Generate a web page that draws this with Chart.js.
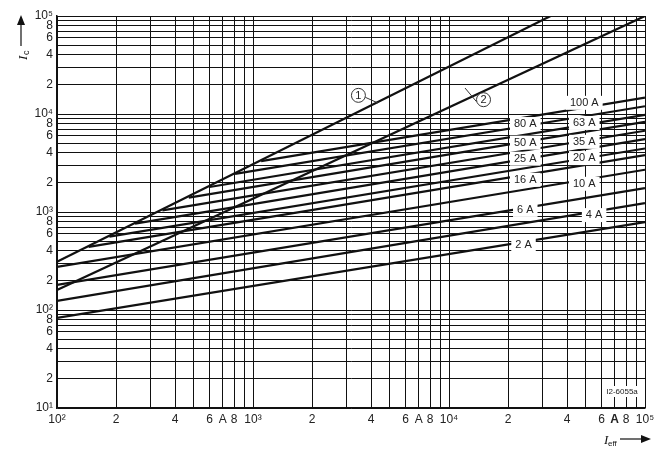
<!DOCTYPE html>
<html><head><meta charset="utf-8">
<script src="https://cdn.jsdelivr.net/npm/chart.js@4.4.0/dist/chart.umd.min.js"></script>
<style>html,body{margin:0;background:#fff}#w{width:660px;height:451px}</style>
</head><body><div id="w"><canvas id="c"></canvas></div>
<script>
const fuseNames = ['100 A','80 A','63 A','50 A','35 A','25 A','20 A','16 A','10 A','6 A','4 A','2 A'];
const fuseStartX = [1100,810,600,470,345,250,185,145,100,100,100,100];
const fuseStartY = [3300,2450,1800,1400,1040,760,560,440,275,180,124,83];
const fuseEndX = [1e5,1e5,1e5,1e5,1e5,1e5,1e5,1e5,1e5,1e5,1e5,1e5];
const fuseEndY = [14700,12000,9800,8300,6750,5550,4450,3800,2700,1750,1230,790];
const labelX = [49000,24500,49000,24500,49000,24500,49000,24500,49000,24500,55000,24000];
const labelY = [13000,7900,8100,5100,5200,3500,3550,2130,1940,1050,930,460];
const curve1 = [[100,310],[33000,1e5]];
const curve2 = [[100,160],[1e5,1e5]];
const sup = {1:'¹',2:'²',3:'³',4:'⁴',5:'⁵'};
const xTickLabels = {1:'10',2:'2',4:'4',6:'6',7:'A',8:'8'};
const yTickLabels = {1:'10',2:'2',4:'4',6:'6',8:'8'};

const datasets = [];
[curve1,curve2].forEach(c=>datasets.push({data:c.map(p=>({x:p[0],y:p[1]}))}));
fuseNames.forEach((n,i)=>datasets.push({data:[{x:fuseStartX[i],y:fuseStartY[i]},{x:fuseEndX[i],y:fuseEndY[i]}]}));
datasets.forEach(d=>Object.assign(d,{borderColor:'#111',borderWidth:2.2,pointRadius:0,fill:false,tension:0}));

function logTicks(min,max){const t=[];for(let e=Math.log10(min);e<Math.log10(max);e++)for(let m=1;m<10;m++)t.push({value:m*Math.pow(10,e)});t.push({value:max});return t;}
function lbl(v,map){const e=Math.floor(Math.log10(v)+1e-9);const m=Math.round(v/Math.pow(10,e));if(m===1)return '10'+sup[e];return map[m]||'';}

const deco = {id:'deco',afterDatasetsDraw(ch){
  const c=ch.ctx,xs=ch.scales.x,ys=ch.scales.y;
  c.save();
  c.font='11px "Liberation Sans", Arial';c.textAlign='center';c.textBaseline='middle';
  fuseNames.forEach((n,i)=>{const px=xs.getPixelForValue(labelX[i]),py=ys.getPixelForValue(labelY[i]);
    const w=c.measureText(n).width+8;c.fillStyle='#fff';c.fillRect(px-w/2,py-7,w,14);c.fillStyle='#222';c.fillText(n,px,py);});
  // circles
  [[3450,15500,'1',378,103],[15000,14000,'2',465,88]].forEach(o=>{const px=xs.getPixelForValue(o[0]),py=ys.getPixelForValue(o[1]);
    c.strokeStyle='#333';c.lineWidth=1;c.beginPath();c.moveTo(px+(o[3]>px?7:-7),py+2);c.lineTo(o[3],o[4]);c.stroke();
    c.fillStyle='#fff';c.beginPath();c.arc(px,py,7,0,Math.PI*2);c.fill();c.stroke();c.fillStyle='#222';c.fillText(o[2],px,py+0.5);});
  // code
  c.font='8px "Liberation Sans", Arial';c.fillStyle='#fff';c.fillRect(606,386,33,11);c.fillStyle='#222';c.fillText('I2-6055a',622,392);
  // axis titles
  c.fillStyle='#111';c.font='italic 13px "Liberation Serif", serif';
  c.save();c.translate(24,60);c.rotate(-Math.PI/2);c.textAlign='left';c.fillText('I',0,0);c.font='9px "Liberation Sans"';c.fillText('c',5,3);c.restore();
  c.strokeStyle='#111';c.lineWidth=1.2;c.beginPath();c.moveTo(21,46);c.lineTo(21,22);c.stroke();
  c.beginPath();c.moveTo(17,25);c.lineTo(21,15);c.lineTo(25,25);c.closePath();c.fill();
  c.textAlign='left';c.fillText('I',604,441);c.font='8px "Liberation Sans"';c.fillText('eff',608,444);
  c.beginPath();c.moveTo(620,439);c.lineTo(645,439);c.stroke();
  c.beginPath();c.moveTo(641,435);c.lineTo(651,439);c.lineTo(641,443);c.closePath();c.fill();
  c.restore();
}};

new Chart(document.getElementById('c'),{type:'line',data:{datasets},plugins:[deco],
options:{responsive:true,maintainAspectRatio:false,animation:false,
 layout:{padding:{top:16,right:15,left:0,bottom:0}},
 plugins:{legend:{display:false},tooltip:{enabled:false}},
 scales:{
  x:{type:'logarithmic',min:100,max:1e5,afterBuildTicks:s=>{s.ticks=logTicks(100,1e5)},
     afterFit:s=>{s.height=43},
     grid:{color:'#111',lineWidth:1,drawTicks:false},border:{color:'#111',width:1.5},
     ticks:{autoSkip:false,maxRotation:0,padding:4,color:'#222',font:c=>({size:12,family:'"Liberation Sans", Arial',weight:(c.tick&&Math.abs(c.tick.value-7e4)<1)?'bold':'normal'}),callback:v=>lbl(v,xTickLabels)}},
  y:{type:'logarithmic',min:10,max:1e5,afterBuildTicks:s=>{s.ticks=logTicks(10,1e5)},
     afterFit:s=>{s.width=57},
     grid:{color:'#111',lineWidth:1,drawTicks:false},border:{color:'#111',width:1.5},
     ticks:{autoSkip:false,padding:4,color:'#222',font:{size:12,family:'"Liberation Sans", Arial'},callback:v=>lbl(v,yTickLabels)}}
 }}});
</script></body></html>
